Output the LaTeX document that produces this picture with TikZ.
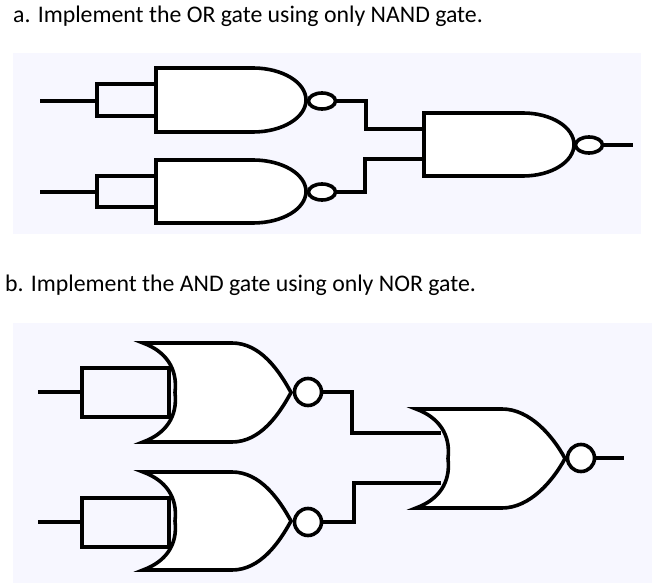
\documentclass[tikz,border=0pt]{standalone}
\usepackage{fontspec}
\setmainfont{Carlito}
\usetikzlibrary{shapes.geometric}
\begin{document}
\begin{tikzpicture}[x=1pt,y=-1pt,
  w/.style={line width=3.6pt,line join=miter},
  gate/.style={w,fill=white},
  bub/.style={draw,w,fill=white},
  panel/.style={fill=black!6!blue!3!white,draw=none},
  ttl/.style={anchor=base west,inner sep=0pt,font=\fontsize{23.8}{27}\selectfont}]
\useasboundingbox (0,0) rectangle (659,585);
\node[ttl] (ta) at (13,23) {a. Implement the OR gate using only NAND gate.};
\node[ttl] (tb) at (5,292) {b. Implement the AND gate using only NOR gate.};
\fill[panel] (13,53) rectangle (641,234);
\fill[panel] (13,323) rectangle (652,583);
% ---------- NAND panel ----------
\draw[w] (40,101) -- (97,101) (97,84) rectangle (156,116);
\draw[w] (40,192) -- (97,192) (97,176) rectangle (156,207);
\draw[gate] (156,68) -- (253,68) arc[start angle=-90,end angle=90,x radius=53,y radius=32] -- (156,132) -- cycle;
\draw[gate] (156,160) -- (253,160) arc[start angle=-90,end angle=90,x radius=53,y radius=31.5] -- (156,223) -- cycle;
\draw[gate] (424,113) -- (523,113) arc[start angle=-90,end angle=90,x radius=51,y radius=31.5] -- (424,176) -- cycle;
\node[bub,ellipse,minimum width=27pt,minimum height=16pt,inner sep=0pt] (b1) at (322,101) {};
\node[bub,ellipse,minimum width=27pt,minimum height=16pt,inner sep=0pt] (b2) at (322,192) {};
\node[bub,ellipse,minimum width=27pt,minimum height=16pt,inner sep=0pt] (b3) at (589,145) {};
\coordinate (g3a) at (424,129);
\coordinate (g3b) at (424,159);
\coordinate (oa) at (633,145);
\draw[w] (b1.east) -| (366,129) -- (g3a);
\draw[w] (b2.east) -| (365,159) -- (g3b);
\draw[w] (b3.east) -- (oa);
% ---------- NOR panel ----------
\draw[w] (38,392) -- (82,392) (82,368) rectangle (169,417);
\draw[w] (38,522) -- (82,522) (82,498) rectangle (169,547);
\foreach \t/\b/\l/\f/\r in {343/442/143/232/291, 472/570/143/232/291, 409/508/416/502/565}{
  \pgfmathsetmacro{\m}{(\t+\b)/2}
  \pgfmathsetmacro{\h}{(\b-\t)/2}
  \draw[gate] (\l,\t) .. controls (\l+22,\t+8) and (\l+35,\m-\h*0.5) .. (\l+32,\m)
     .. controls (\l+35,\m+\h*0.5) and (\l+22,\b-8) .. (\l,\b)
     -- (\f,\b) .. controls (\f+28,\b) and (\r-12,\m+\h*0.45) .. (\r,\m)
     .. controls (\r-12,\m-\h*0.45) and (\f+28,\t) .. (\f,\t) -- cycle;
}
\node[bub,circle,minimum size=27pt,inner sep=0pt] (n1) at (308,392) {};
\node[bub,circle,minimum size=27pt,inner sep=0pt] (n2) at (308,522) {};
\node[bub,circle,minimum size=27pt,inner sep=0pt] (n3) at (581,458) {};
\coordinate (h3a) at (441,433);
\coordinate (h3b) at (441,483);
\coordinate (ob) at (624,458);
\draw[w] (n1.east) -| (352,433) -- (h3a);
\draw[w] (n2.east) -| (354,483) -- (h3b);
\draw[w] (n3.east) -- (ob);
\end{tikzpicture}
\end{document}
